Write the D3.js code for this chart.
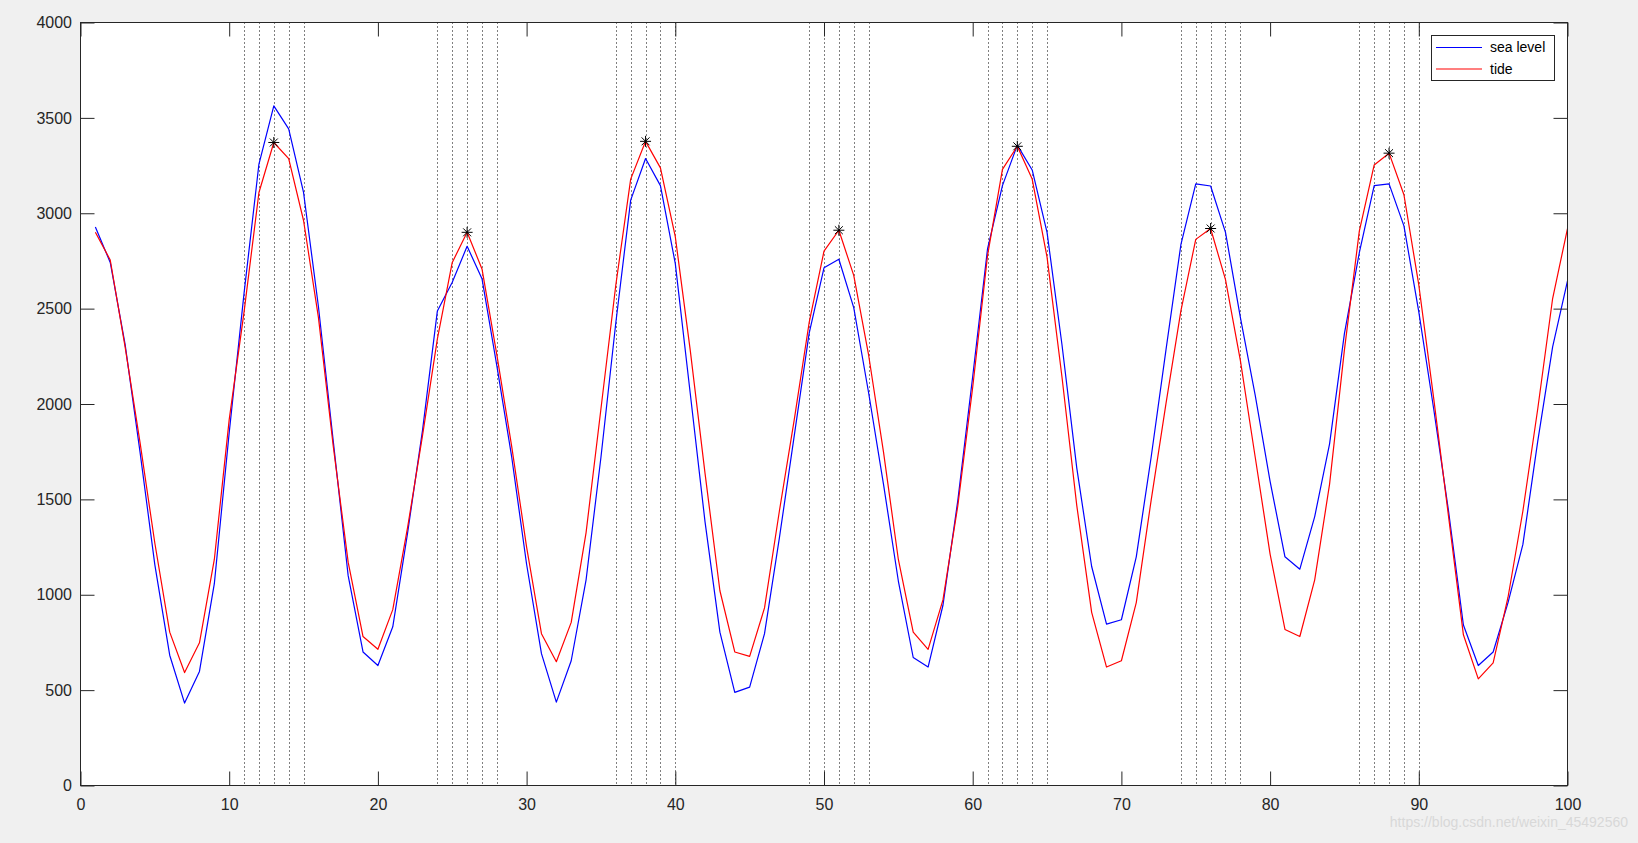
<!DOCTYPE html>
<html><head><meta charset="utf-8">
<script src="https://cdn.jsdelivr.net/npm/d3@7"></script>
<style>
html,body{margin:0;padding:0;background:#f0f0f0;}
svg{display:block;font-family:"Liberation Sans",Arial,Helvetica,sans-serif;}
</style></head>
<body>
<svg id="chart" width="1638" height="843"></svg>
<script>
// sea level (blue), index 1..100
const seaLevel = [2928,2742,2313,1750,1157,683,432,598,1058,1850,
2581,3258,3563,3442,3109,2511,1805,1100,700,629,
832,1326,1862,2488,2638,2827,2657,2200,1721,1160,
691,437,654,1078,1721,2426,3069,3287,3145,2736,
2059,1382,804,488,516,796,1298,1834,2370,2714,
2759,2505,2059,1580,1072,671,621,945,1495,2144,
2815,3145,3357,3227,2900,2313,1664,1148,846,869,
1199,1721,2285,2835,3154,3143,2900,2454,2045,1594,
1199,1134,1410,1791,2370,2793,3145,3154,2934,2483,
1975,1439,841,629,700,959,1264,1805,2299,2646];
// tide (red)
const tide = [2900,2755,2300,1800,1270,804,592,748,1185,1918,
2483,3109,3371,3286,2962,2454,1777,1171,781,714,
922,1354,1834,2341,2742,2900,2708,2257,1777,1250,
796,649,855,1326,1975,2624,3179,3377,3238,2877,
2285,1636,1021,700,677,931,1439,1918,2426,2801,
2911,2674,2257,1749,1185,804,714,973,1467,2088,
2779,3230,3351,3179,2770,2144,1467,908,621,654,
959,1495,2003,2488,2863,2920,2652,2229,1721,1213,
818,781,1078,1580,2285,2906,3253,3315,3097,2624,
2031,1411,790,559,643,987,1439,1975,2553,2920];
const peaks = [13,26,38,51,63,76,88];
const vlines = [11,12,13,14,15, 24,25,26,27,28, 36,37,38,39,40, 49,50,51,52,53, 61,62,63,64,65, 74,75,76,77,78, 86,87,88,89,90];
const xTicks = [0,10,20,30,40,50,60,70,80,90,100];
const yTicks = [0,500,1000,1500,2000,2500,3000,3500,4000];
const seriesNames = ["sea level","tide"];
const seriesColors = ["#0000ff","#ff0000"];

const L=80.5, R=1567.5, T=22.5, B=785.5;
const svg = d3.select("#chart");
const x = d3.scaleLinear().domain([0,100]).range([L,R]);
const y = d3.scaleLinear().domain([0,4000]).range([B,T]);

svg.append("rect").attr("x",L).attr("y",T).attr("width",R-L).attr("height",B-T).attr("fill","#fff");

// dotted vertical lines
svg.append("g").selectAll("line").data(vlines).join("line")
  .attr("x1",d=>Math.round(x(d))+0.5).attr("x2",d=>Math.round(x(d))+0.5)
  .attr("y1",T).attr("y2",B)
  .attr("stroke","#000").attr("stroke-width",1).attr("stroke-dasharray","1,3");

const line = d3.line().x((d,i)=>x(i+1)).y(d=>y(d));
[seaLevel,tide].forEach((s,k)=>{
  svg.append("path").datum(s).attr("d",line).attr("fill","none")
    .attr("stroke",seriesColors[k]).attr("stroke-width",1.2).attr("stroke-linejoin","round");
});

// asterisk markers
const mk = svg.append("g").attr("stroke","#000").attr("stroke-width",1);
peaks.forEach(p=>{
  const cx=x(p), cy=y(tide[p-1]), r=5.5, d=r*0.72;
  const g = mk.append("g");
  g.append("line").attr("x1",cx-r).attr("x2",cx+r).attr("y1",cy).attr("y2",cy);
  g.append("line").attr("x1",cx).attr("x2",cx).attr("y1",cy-r).attr("y2",cy+r);
  g.append("line").attr("x1",cx-d).attr("x2",cx+d).attr("y1",cy-d).attr("y2",cy+d);
  g.append("line").attr("x1",cx-d).attr("x2",cx+d).attr("y1",cy+d).attr("y2",cy-d);
});

const axCol="#262626";
function style(g,labels){
  g.select(".domain").remove();
  g.selectAll(".tick line").attr("stroke",axCol);
  g.selectAll(".tick text").attr("fill",axCol).style("font-size","16px").style("font-family","'Liberation Sans',Arial,sans-serif");
  if(!labels) g.selectAll(".tick text").remove();
}
svg.append("g").attr("transform",`translate(0,${B})`)
  .call(d3.axisBottom(x).tickValues(xTicks).tickFormat(d3.format("d")).tickSize(-14).tickPadding(13)).call(g=>style(g,true));
svg.append("g").attr("transform",`translate(0,${T})`)
  .call(d3.axisTop(x).tickValues(xTicks).tickSize(-14)).call(g=>style(g,false));
svg.append("g").attr("transform",`translate(${L},0)`)
  .call(d3.axisLeft(y).tickValues(yTicks).tickFormat(d3.format("d")).tickSize(-14).tickPadding(8.5)).call(g=>style(g,true));
svg.append("g").attr("transform",`translate(${R},0)`)
  .call(d3.axisRight(y).tickValues(yTicks).tickSize(-14)).call(g=>style(g,false));

svg.append("rect").attr("x",L).attr("y",T).attr("width",R-L).attr("height",B-T)
  .attr("fill","none").attr("stroke",axCol).attr("stroke-width",1);

// legend
const lg = svg.append("g");
lg.append("rect").attr("x",1431.5).attr("y",35.5).attr("width",123).attr("height",45)
  .attr("fill","#fff").attr("stroke",axCol);
seriesNames.forEach((n,i)=>{
  const yy = 47.5 + i*21.5;
  lg.append("line").attr("x1",1436).attr("x2",1482).attr("y1",yy).attr("y2",yy)
    .attr("stroke",seriesColors[i]).attr("stroke-width",1.2);
  lg.append("text").attr("x",1490).attr("y",yy).attr("dy","0.35em")
    .style("font-size","14px").attr("fill","#000").text(n);
});

// watermark
svg.append("text").attr("x",1628).attr("y",827).attr("text-anchor","end")
  .style("font-size","14px").attr("fill","#d8d8d8").text("https://blog.csdn.net/weixin_45492560");
</script>
</body></html>
